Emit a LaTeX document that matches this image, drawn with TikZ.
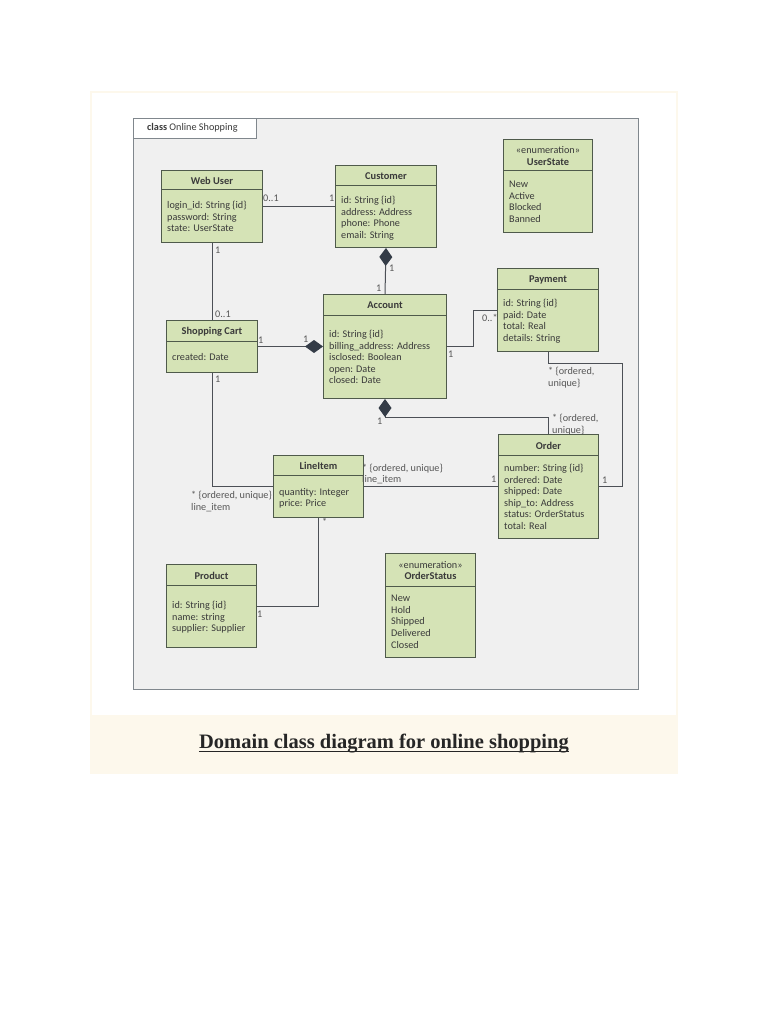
\documentclass[tikz,border=0pt]{standalone}
\usepackage{fontspec}
\setmainfont{Carlito}
\newfontfamily\capfont{Liberation Serif}
\usetikzlibrary{arrows.meta,calc}

\definecolor{clsfill}{HTML}{D5E3B6}
\definecolor{clsline}{HTML}{4F5A4B}
\definecolor{framefill}{HTML}{F0F0F0}
\definecolor{frameline}{HTML}{80878D}
\definecolor{txtc}{HTML}{3A3A3A}
\definecolor{linec}{HTML}{4C5056}
\definecolor{diac}{HTML}{343C47}
\definecolor{cream}{HTML}{FDF8EC}

\tikzset{
  clsbox/.style={draw=clsline, fill=clsfill, line width=1pt, inner sep=0pt},
  clshead/.style={font=\bfseries\fontsize{10.4}{11.5}\selectfont, text=txtc, align=center, inner sep=0pt},
  clsbody/.style={font=\fontsize{10.2}{11.6}\selectfont, text=txtc, align=left, inner sep=0pt},
  mult/.style={font=\fontsize{10.2}{11.8}\selectfont, text=txtc!85, align=left, inner sep=0pt, anchor=west},
  assoc/.style={draw=linec, line width=1pt},
  compo/.style={assoc, {Diamond[length=18pt,width=13pt,fill=diac,color=diac]}-},
}

% box of a class: name, north west corner, width, height, header height, title, body top, body
\newcommand{\umlclass}[8]{%
  \node[clsbox, minimum width=#3, minimum height=#4, anchor=north west] (#1) at #2 {};
  \draw[draw=clsline, line width=1pt] ([yshift=-#5]#1.north west) -- ([yshift=-#5]#1.north east);
  \node[clshead] (#1-head) at ($(#1.north)!0.5!([yshift=-#5]#1.north)+(0,1)$) {#6};
  \node[clsbody, anchor=north west] (#1-body) at ([xshift=6pt,yshift=-#7-1]#1.north west) {#8};
}

\begin{document}
\begin{tikzpicture}[x=1pt, y=-1pt]
  \useasboundingbox (0,0) rectangle (768,1024);
  \fill[white] (0,0) rectangle (768,1024);

  % page card and caption band
  \draw[cream, line width=2pt] (91,92) rectangle (677,773);
  \fill[cream] (91,715) rectangle (677,773);

  % frame of the diagram
  \node[draw=frameline, fill=framefill, line width=1.2pt, minimum width=505, minimum height=571, anchor=north west, inner sep=0pt] (frame) at (133,118) {};
  \node[draw=frameline, fill=white, line width=1.2pt, minimum width=123, minimum height=20, anchor=north west, inner sep=0pt] (tab) at (133,118) {};
  \node[clsbody, anchor=west] (tabtext) at (147,128) {\textbf{class} Online Shopping};

  % classes
  \umlclass{webuser}{(161,170)}{101}{72}{20}{Web User}{30}{login\_id: String \{id\}\\password: String\\state: UserState}
  \umlclass{customer}{(335,165)}{101}{82}{21}{Customer}{30}{id: String \{id\}\\address: Address\\phone: Phone\\email: String}
  \umlclass{userstate}{(503,139)}{89}{93}{32}{{\mdseries\fontsize{10.2}{11}\selectfont «enumeration»}\\UserState}{41}{New\\Active\\Blocked\\Banned}
  \umlclass{payment}{(497,268)}{101}{83}{21}{Payment}{30}{id: String \{id\}\\paid: Date\\total: Real\\details: String}
  \umlclass{account}{(323,294)}{123}{104}{21}{Account}{35}{id: String \{id\}\\billing\_address: Address\\isclosed: Boolean\\open: Date\\closed: Date}
  \umlclass{cart}{(166,320)}{91}{52}{21}{Shopping Cart}{32}{created: Date}
  \umlclass{order}{(498,434)}{100}{104}{21}{Order}{29}{number: String \{id\}\\ordered: Date\\shipped: Date\\ship\_to: Address\\status: OrderStatus\\total: Real}
  \umlclass{lineitem}{(273,455)}{90}{62}{20}{LineItem}{32}{quantity: Integer\\price: Price}
  \umlclass{product}{(166,564)}{90}{83}{21}{Product}{36}{id: String \{id\}\\name: string\\supplier: Supplier}
  \umlclass{orderstatus}{(385,553)}{90}{104}{33}{{\mdseries\fontsize{10.2}{11}\selectfont «enumeration»}\\OrderStatus}{41}{New\\Hold\\Shipped\\Delivered\\Closed}

  % associations
  \draw[assoc] (webuser.east) -- (customer.west);
  \draw[assoc] (webuser.south) -- (cart.north);
  \draw[compo] (customer.south) -- (account.north);
  \draw[assoc, -{Diamond[length=18pt,width=13pt,fill=diac,color=diac]}] (cart.east) -- (account.west);
  \draw[assoc] (account.east) -- ++(26,0) |- (payment.west);
  \draw[compo] (account.south) -- ++(0,18) -| (order.north);
  \draw[assoc] (payment.south) -- ++(0,11) -| ([xshift=23pt]order.east) -- (order.east);
  \draw[assoc] (cart.south) |- (lineitem.west);
  \draw[assoc] (lineitem.east) -- (order.west);
  \draw[assoc] (lineitem.south) |- (product.east);

  % multiplicities
  \node[mult] (m1) at (263,198) {0..1};
  \node[mult] (m2) at (329,198) {1};
  \node[mult] (m3) at (215,250) {1};
  \node[mult] (m4) at (215,314) {0..1};
  \node[mult] (m5) at (389,268) {1};
  \node[mult] (m6) at (376,288) {1};
  \node[mult] (m7) at (258,340) {1};
  \node[mult] (m8) at (303,339) {1};
  \node[mult] (m9) at (482,318) {0..*};
  \node[mult] (m10) at (448,354) {1};
  \node[mult] (m11) at (548,377.5) {* \{ordered,\\unique\}};
  \node[mult] (m12) at (377,421) {1};
  \node[mult] (m13) at (552,424.5) {* \{ordered,\\unique\}};
  \node[mult] (m14) at (602,480) {1};
  \node[mult] (m15) at (215,379) {1};
  \node[mult] (m16) at (191,501.5) {* \{ordered, unique\}\\line\_item};
  \node[mult] (m17) at (362,474) {* \{ordered, unique\}\\line\_item};
  \node[mult] (m18) at (491,479) {1};
  \node[mult] (m19) at (322,522) {*};
  \node[mult] (m20) at (257,614) {1};

  % caption
  \node[font=\capfont\bfseries\fontsize{20.5}{24}\selectfont, text=black!85, inner sep=0pt] (caption) at (384,744) {Domain class diagram for online shopping};
  \draw[black!85, line width=1pt] ([yshift=-2.5pt]caption.base west) -- ([yshift=-2.5pt]caption.base east);
\end{tikzpicture}
\end{document}
